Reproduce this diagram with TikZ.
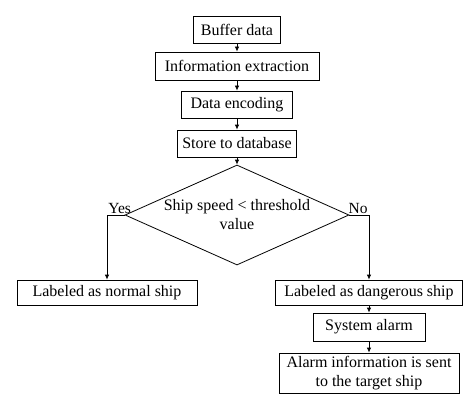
\documentclass[tikz,border=0pt]{standalone}
\usepackage{fontspec}
\setmainfont{Liberation Serif}
\usetikzlibrary{shapes.geometric, arrows.meta, positioning, calc}

\begin{document}
\begin{tikzpicture}[x=1pt, y=-1pt,
    box/.style={draw, line width=0.8pt, inner sep=0pt, align=center,
        font=\fontsize{16}{19}\selectfont},
    decision/.style={draw, diamond, aspect=2.24, line width=0.8pt, inner sep=0pt,
        minimum width=224pt, minimum height=100pt, align=center,
        font=\fontsize{16}{19}\selectfont},
    flow/.style={-{Latex[length=5pt,width=4.5pt]}, line width=0.8pt},
    answer/.style={inner sep=1pt, font=\fontsize{15.5}{18}\selectfont}]
\useasboundingbox (0,0) rectangle (474,420);

% Main chain
\node[box, minimum width=87pt, minimum height=27pt] (buffer) at (237,29.5) {Buffer data};
\node[box, minimum width=164pt, minimum height=28pt] (extract) at (237,66) {Information extraction};
\node[box, minimum width=111pt, minimum height=27pt] (encode) at (237,104.5) {Data encoding};
\node[box, minimum width=119pt, minimum height=27pt] (store) at (237,143.5) {Store to database};

% Decision
\node[decision] (speed) at (237,215) {Ship speed < threshold\\value};

% Outcomes
\node[box, minimum width=180pt, minimum height=25pt] (normal) at (107,292.5) {Labeled as normal ship};
\node[box, minimum width=187pt, minimum height=25pt] (danger) at (369,292.5) {Labeled as dangerous ship};
\node[box, minimum width=112pt, minimum height=28pt] (alarm) at (369,327) {System alarm};
\node[box, minimum width=180pt, minimum height=40pt] (sent) at (369,373) {Alarm information is sent\\to the target ship};

% Connectors
\draw[flow] (buffer) -- (extract);
\draw[flow] (extract) -- (encode);
\draw[flow] (encode) -- (store);
\draw[flow] (store) -- (speed);
\draw[flow] (speed.west) -| node[pos=0.5, answer, above right] (yes) {Yes} (normal.north);
\draw[flow] (speed.east) -| node[pos=0.5, answer, above left] (no) {No} (danger.north);
\draw[flow] (danger) -- (alarm);
\draw[flow] (alarm) -- (sent);
\end{tikzpicture}
\end{document}
